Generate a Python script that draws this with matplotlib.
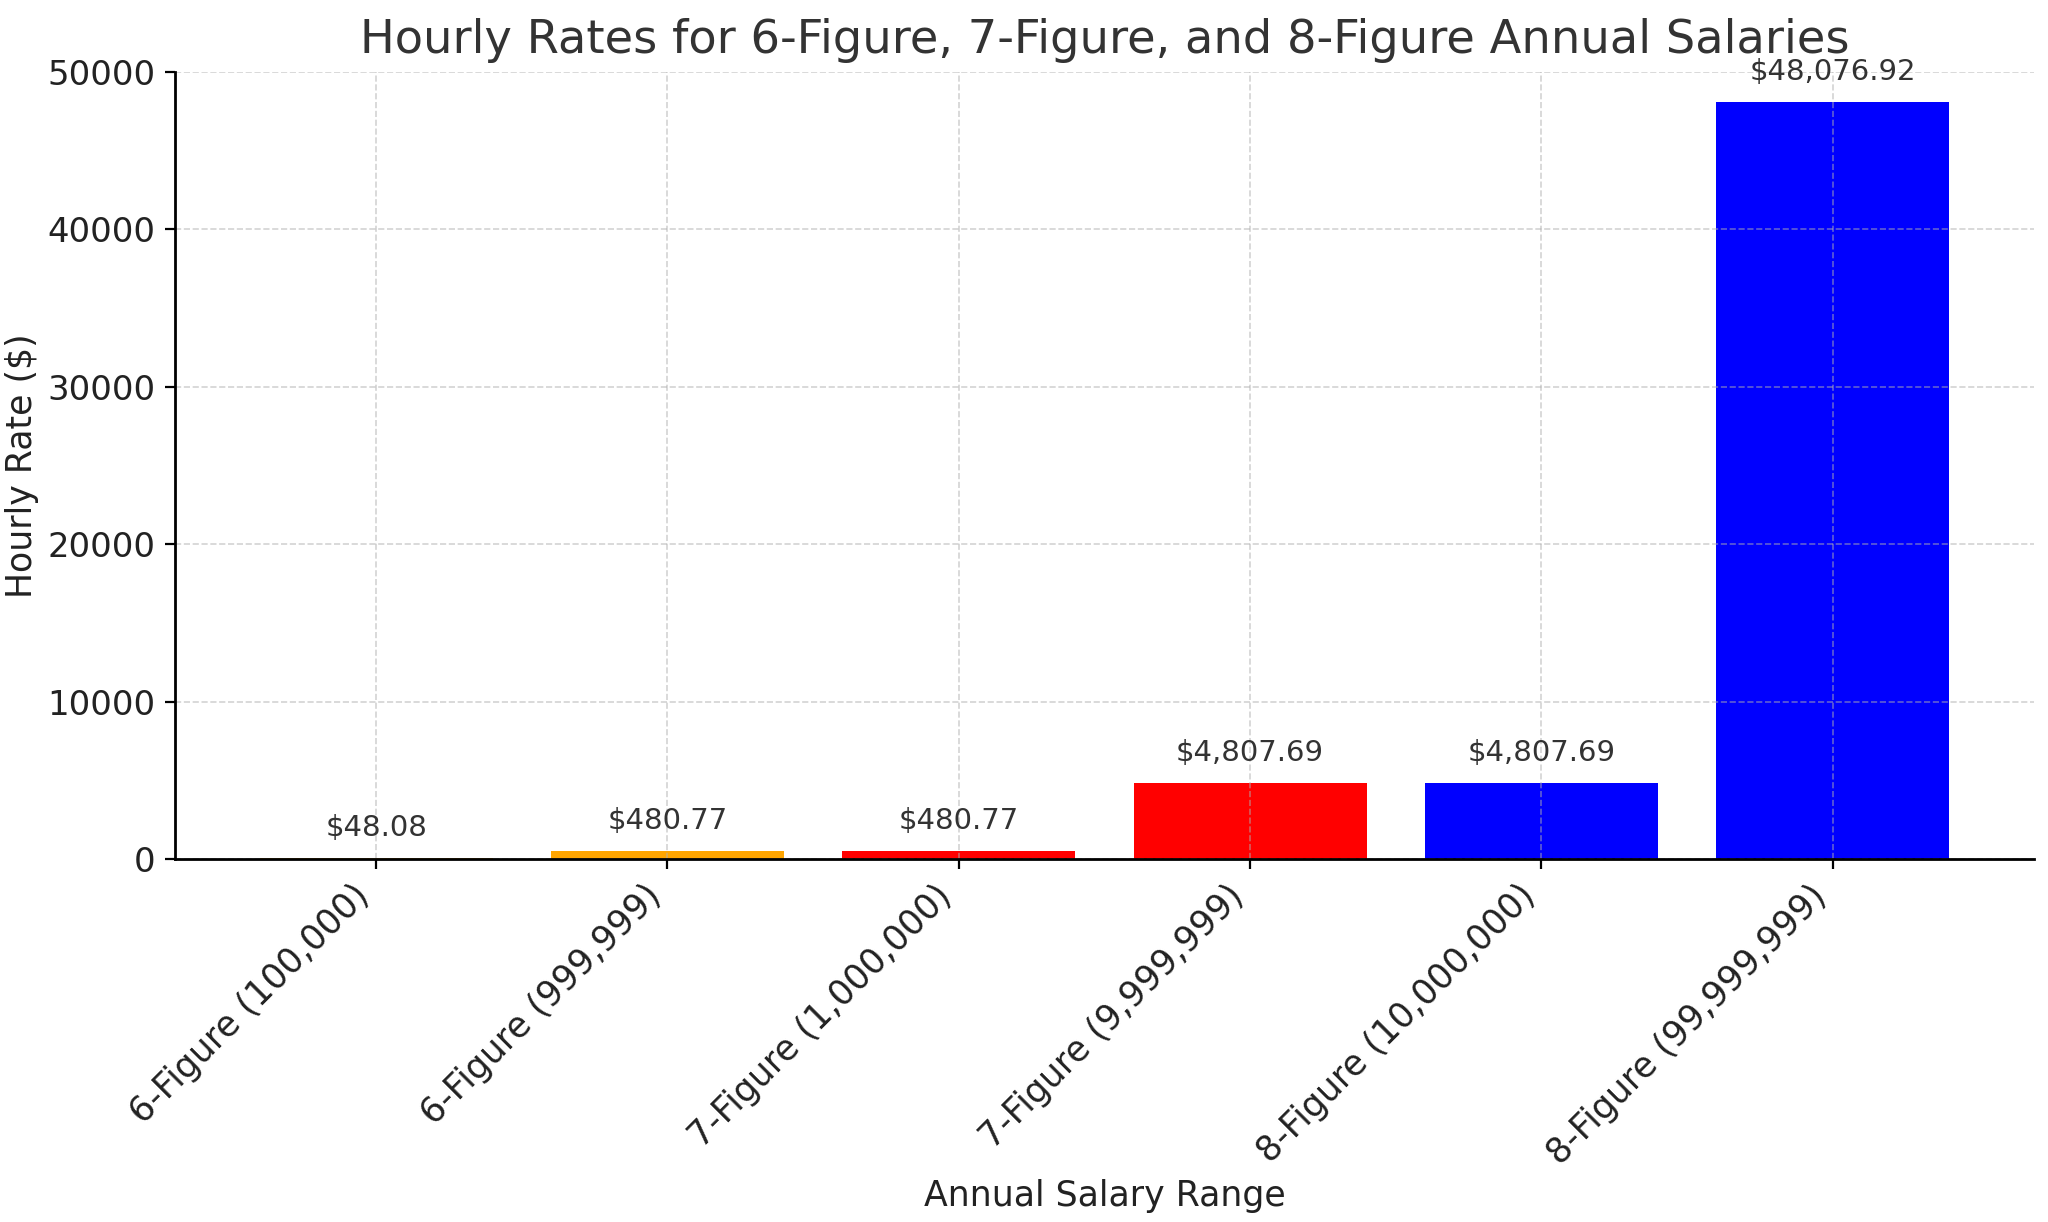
import matplotlib
matplotlib.use("Agg")
import matplotlib.pyplot as plt

categories = ["6-Figure (100,000)", "6-Figure (999,999)", "7-Figure (1,000,000)",
              "7-Figure (9,999,999)", "8-Figure (10,000,000)", "8-Figure (99,999,999)"]
hourly_rates = [48.08, 480.77, 480.77, 4807.69, 4807.69, 48076.92]
bar_colors = ["orange", "orange", "red", "red", "blue", "blue"]
y_ticks = [0, 10000, 20000, 30000, 40000, 50000]

fig = plt.figure(figsize=(10.24, 6.11), dpi=200)
ax = fig.add_axes([0.0855, 0.297, 0.9075, 0.644])

bars = ax.bar(categories, hourly_rates, color=bar_colors, width=0.8)
ax.set_ylim(0, 50000)
ax.set_yticks(y_ticks)
ax.set_yticklabels([str(t) for t in y_ticks])

for b, v in zip(bars, hourly_rates):
    ax.annotate(f"${v:,.2f}", (b.get_x() + b.get_width() / 2, b.get_height()),
                xytext=(0, 6), textcoords="offset points", ha="center", va="bottom",
                fontsize=10.5, color="#333333")

ax.set_title("Hourly Rates for 6-Figure, 7-Figure, and 8-Figure Annual Salaries",
             fontsize=16.7, color="#333333", pad=7)
ax.set_xlabel("Annual Salary Range", fontsize=12.5, color="#222222", labelpad=3)
ax.set_ylabel("Hourly Rate ($)", fontsize=12.5, color="#222222", labelpad=3)
plt.setp(ax.get_xticklabels(), rotation=45, ha="right", fontsize=12.5, color="#222222")
plt.setp(ax.get_yticklabels(), fontsize=12.2, color="#222222")
ax.grid(True, linestyle="--", alpha=0.55, linewidth=0.6)
ax.set_axisbelow(False)
for s in ("left", "bottom"):
    ax.spines[s].set_zorder(4)
    ax.spines[s].set_linewidth(1.0)
ax.spines["top"].set_visible(False)
ax.spines["right"].set_visible(False)

fig.savefig("out.png", dpi=200)
